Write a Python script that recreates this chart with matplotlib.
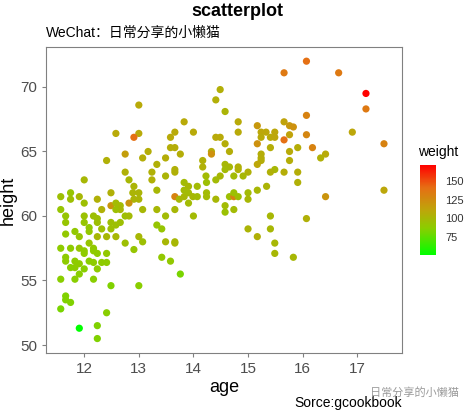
import matplotlib
matplotlib.use("Agg")
import matplotlib.pyplot as plt
from matplotlib.colors import LinearSegmentedColormap

plt.rcParams['font.family'] = ['Liberation Sans', 'Noto Sans CJK SC', 'DejaVu Sans']

# heightweight (gcookbook)
age = [16.07, 15.66, 16.66, 17.16, 17.16, 14.49, 14.41, 13.0, 14.58, 16.07,
       13.83, 14.82, 15.66, 15.76, 15.83, 15.17, 12.58, 13.0, 12.91, 14.0,
       13.66, 13.58, 14.41, 14.49, 14.82, 15.24, 15.33, 15.49, 15.24, 15.41,
       15.49, 15.76, 16.07, 16.91, 17.49, 15.66, 15.17, 14.58, 16.18, 13.58,
       13.66, 13.17, 12.75, 13.07, 13.49, 13.76, 14.33, 14.33, 14.66, 15.41,
       15.91, 15.76, 15.24, 15.24, 15.24, 15.17, 15.76, 16.42, 16.33, 12.41,
       13.33, 14.17, 14.17, 14.58, 14.66, 14.82, 14.82, 13.66, 13.66, 13.24,
       12.75, 14.58, 15.0, 15.49, 15.41, 15.66, 15.91, 12.0, 12.82, 13.24,
       13.49, 14.23, 14.49, 14.41, 14.74, 14.91, 14.24, 13.83, 13.91, 12.91,
       15.91, 15.34, 13.33, 11.57, 11.75, 11.75, 11.91, 12.24, 12.49, 12.89,
       13.0, 12.91, 13.0, 13.66, 13.74, 13.83, 13.91, 13.83, 13.99, 14.07,
       14.07, 14.24, 14.24, 14.41, 14.66, 14.74, 14.82, 14.74, 15.0, 15.0,
       15.17, 16.42, 17.49, 12.0, 12.49, 12.58, 12.66, 12.66, 12.32, 12.82,
       13.07, 13.33, 13.66, 13.91, 14.58, 14.58, 14.74, 11.57, 11.66, 11.66,
       12.0, 12.0, 12.17, 12.24, 12.24, 12.75, 12.82, 12.58, 12.58, 12.49,
       12.66, 13.49, 14.0, 15.41, 16.07, 11.66, 11.83, 11.91, 12.09, 12.09,
       12.32, 12.49, 12.41, 12.24, 12.58, 13.33, 13.42, 15.0, 15.41, 15.17,
       11.57, 11.75, 11.91, 12.0, 12.0, 12.09, 12.17, 12.17, 12.24, 12.41,
       12.75, 13.0, 13.07, 13.49, 13.66, 13.66, 12.91, 15.49, 15.49, 11.66,
       11.66, 11.83, 11.83, 11.75, 11.91, 12.09, 12.17, 12.32, 12.41, 12.0,
       11.91, 11.83, 11.57, 12.17, 12.24, 13.42, 13.58, 13.76, 15.83, 12.49,
       13.0, 11.66, 11.66, 11.75, 11.57, 12.41, 11.91, 12.24, 12.24]
height = [72.0, 71.1, 71.1, 69.5, 68.3, 69.8, 69.0, 68.6, 68.1, 67.8,
          67.3, 67.3, 67.3, 67.0, 66.9, 67.0, 66.4, 66.4, 66.1, 66.5,
          66.5, 66.1, 66.1, 66.1, 66.5, 66.5, 66.5, 66.5, 66.1, 66.1,
          66.1, 66.3, 66.3, 66.5, 65.6, 65.9, 65.6, 65.6, 65.3, 65.3,
          65.3, 65.0, 64.8, 64.5, 64.5, 64.8, 65.0, 64.8, 65.0, 65.3,
          65.3, 65.0, 64.8, 64.5, 64.3, 64.0, 64.3, 64.8, 64.5, 64.3,
          64.0, 64.3, 63.8, 64.0, 63.8, 63.8, 63.6, 63.6, 63.4, 63.4,
          63.4, 63.6, 63.4, 63.6, 63.4, 63.4, 63.4, 62.8, 62.8, 62.8,
          63.1, 63.1, 63.1, 62.8, 63.1, 63.1, 62.6, 62.6, 62.3, 62.3,
          62.6, 62.3, 62.0, 61.5, 61.8, 61.3, 61.5, 61.3, 61.8, 61.8,
          61.8, 61.3, 61.3, 61.5, 61.3, 61.5, 61.8, 62.0, 61.5, 61.5,
          62.3, 61.8, 61.5, 61.3, 61.5, 61.5, 61.5, 61.8, 61.8, 61.3,
          62.0, 61.5, 62.0, 61.0, 60.8, 61.0, 60.8, 60.5, 60.5, 61.0,
          60.5, 60.5, 60.5, 61.0, 60.8, 60.3, 60.5, 60.5, 60.0, 59.5,
          60.0, 59.5, 60.0, 59.8, 59.5, 60.0, 60.0, 60.5, 59.3, 59.5,
          59.5, 60.0, 60.0, 60.0, 59.8, 58.6, 58.8, 58.4, 59.1, 58.8,
          59.0, 59.0, 58.4, 58.4, 58.4, 59.3, 59.0, 59.0, 59.0, 58.4,
          57.5, 57.5, 57.5, 57.3, 57.1, 57.9, 57.5, 57.3, 57.1, 57.1,
          57.9, 58.4, 58.0, 58.0, 58.0, 57.9, 57.4, 57.9, 57.1, 56.8,
          56.5, 56.5, 56.0, 56.0, 56.3, 56.5, 56.4, 56.4, 56.4, 55.9,
          55.5, 55.1, 55.1, 55.1, 55.9, 56.8, 56.5, 55.5, 56.8, 54.6,
          54.6, 53.8, 53.5, 53.3, 52.8, 52.5, 51.3, 51.5, 50.5]
weight = [140, 135, 135, 171, 135, 105, 105, 108, 102, 130,
          108, 108, 112, 118, 122, 118, 108, 108, 140, 108,
          108, 108, 108, 108, 108, 110, 110, 110, 108, 108,
          110, 112, 128, 110, 130, 140, 122, 106, 130, 106,
          106, 106, 115, 106, 106, 106, 106, 122, 106, 106,
          106, 108, 106, 106, 106, 110, 106, 108, 104, 104,
          104, 104, 104, 100, 100, 104, 104, 104, 104, 104,
          104, 98, 104, 100, 104, 106, 106, 100, 100, 104,
          102, 98, 100, 98, 98, 100, 95, 98, 100, 102,
          104, 102, 100, 95, 92, 95, 100, 104, 104, 102,
          102, 102, 102, 130, 100, 100, 98, 98, 100, 98,
          98, 98, 98, 100, 95, 130, 95, 95, 98, 100,
          100, 120, 110, 95, 120, 98, 98, 100, 104, 120,
          100, 100, 100, 98, 98, 94, 98, 92, 92, 92,
          94, 92, 95, 95, 95, 95, 98, 95, 95, 95,
          95, 98, 98, 100, 104, 90, 90, 92, 90, 90,
          95, 95, 100, 100, 100, 92, 92, 102, 100, 104,
          88, 88, 92, 88, 88, 92, 90, 88, 88, 90,
          95, 100, 95, 100, 100, 100, 92, 100, 100, 88,
          88, 88, 88, 86, 88, 86, 88, 88, 88, 86,
          86, 86, 86, 86, 88, 90, 90, 82, 100, 84,
          86, 84, 84, 84, 82, 86, 50.5, 84, 84]

cmap = LinearSegmentedColormap.from_list(
    "gr", [(0, "#00ff00"), (0.3, "#8ccd00"), (0.5, "#bea50a"),
           (0.75, "#e66e14"), (1, "#ff0000")])

fig = plt.figure(figsize=(4.74, 4.16), dpi=100)
ax = fig.add_axes([46/474, 63/416, 356/474, 306/416])
sc = ax.scatter(age, height, c=weight, cmap=cmap, vmin=50.5, vmax=171.5,
                s=27, edgecolors='none')
ax.set_xlim(11.3, 17.82)
ax.set_ylim(49.38, 73.1)
ax.set_xticks([12, 13, 14, 15, 16, 17])
ax.set_yticks([50, 55, 60, 65, 70])
for s in ax.spines.values():
    s.set_color('#808080')
ax.tick_params(colors='#808080', labelcolor='#4d4d4d', labelsize=11, length=3)
ax.set_xlabel("age", fontsize=13, labelpad=2)
ax.set_ylabel("height", fontsize=13, labelpad=2)

fig.text(237/474, 1 - 12/416, "scatterplot", ha='center', va='center',
         fontsize=13, fontweight='bold')
fig.text(46/474, 1 - 33/416, "WeChat：日常分享的小懒猫", ha='left', va='center',
         fontsize=10)
fig.text(402/474, 1 - 403/416, "Sorce:gcookbook", ha='right', va='center',
         fontsize=10)
fig.text(370/474, 1 - 392/416, "日常分享的小懒猫", ha='left', va='center',
         fontsize=8, color='#9a9a9a')

cax = fig.add_axes([420/474, 1 - 255/416, 16/474, 90/416])
cb = fig.colorbar(sc, cax=cax, ticks=[75, 100, 125, 150])
cb.outline.set_visible(False)
cax.tick_params(labelsize=8, length=3, colors='white', labelcolor='#333333')
fig.text(418/474, 1 - 152/416, "weight", ha='left', va='center', fontsize=10)

fig.savefig("out.png", dpi=100)
